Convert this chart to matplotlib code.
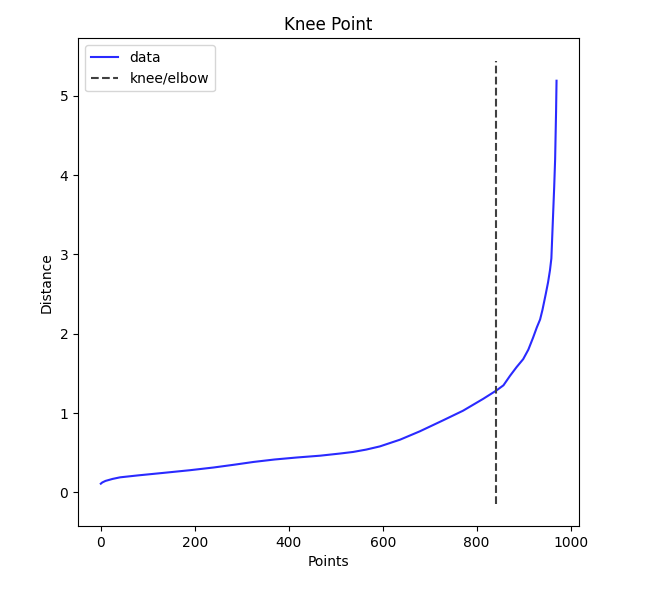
import matplotlib
matplotlib.use("Agg")
import matplotlib.pyplot as plt

# Sorted k-distance curve
points = [0, 3, 10, 25, 41, 80, 133, 190, 240, 285, 325, 370, 417, 467,
          509, 537, 565, 594, 637, 679, 729, 771, 814, 842, 857, 871, 885,
          899, 910, 920, 928, 935, 940, 947, 952, 956, 959, 961, 963, 965,
          967, 969, 970]
distance = [0.11, 0.125, 0.145, 0.17, 0.19, 0.215, 0.246, 0.28, 0.314, 0.35,
            0.384, 0.415, 0.44, 0.463, 0.49, 0.51, 0.54, 0.58, 0.665, 0.77,
            0.91, 1.03, 1.18, 1.285, 1.35, 1.47, 1.58, 1.68, 1.80, 1.95,
            2.08, 2.18, 2.30, 2.50, 2.65, 2.80, 2.95, 3.25, 3.55, 3.85, 4.2,
            4.8, 5.19]
knee = 842

fig = plt.figure(figsize=(6.47, 5.91), dpi=100)
ax = fig.add_axes([0.1206, 0.110, 0.7748, 0.825])
ax.plot(points, distance, color="#2a2aff", label="data")
ylim = ax.get_ylim()
ax.vlines(knee, ylim[0], ylim[1], linestyles="--", colors="#404040",
          label="knee/elbow")
ax.set_title("Knee Point")
ax.set_xlabel("Points")
ax.set_ylabel("Distance")
ax.set_xticks([0, 200, 400, 600, 800, 1000])
ax.legend(loc="upper left")
fig.savefig("out.png", dpi=100)
